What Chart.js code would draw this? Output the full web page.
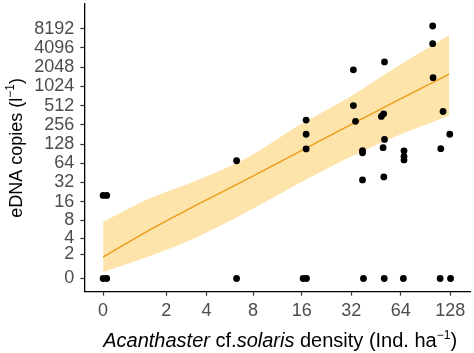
<!DOCTYPE html>
<html lang="en">
  <head>
    <meta charset="UTF-8" />
    <meta name="viewport" content="width=device-width, initial-scale=1.0" />
    <title>eDNA copies vs Acanthaster density</title>
    <script src="https://cdn.jsdelivr.net/npm/chart.js"></script>
    <style>
      html, body { margin: 0; padding: 0; background: #fff; }
      #wrap { width: 474px; height: 353px; position: relative; }
    </style>
  </head>
  <body>
    <div id="wrap"><canvas id="myChart"></canvas></div>
    <script>
      // observed samples: density (Ind. ha-1) and eDNA copies (l-1)
      const density = [0, 0.1, 0, 0.1, 6.3, 6.3, 17, 17, 17, 16.3, 17.1,
        33, 33, 34, 37.5, 37.5, 37.5, 38, 48.8, 50.4, 51, 51, 50, 50.5, 50.8,
        67, 67, 67, 66.4, 100, 100, 100.6, 112, 111, 115.6, 127, 128.4];
      const copies = [20, 20, 0, 0, 70, 0, 304, 182, 107, 0, 0,
        1864, 512, 290, 101, 93, 35, 0, 346, 381, 2479, 151, 112, 39, 0,
        100, 82, 72, 0, 9045, 4774, 1403, 108, 0, 414, 182, 0];

      // fitted curve and its confidence band
      const fitDensity = [0, 1.4, 3.5, 7.5, 15, 30, 60, 126];
      const fitCopies = [1.7, 5.6, 14.5, 37, 93, 238, 600, 1600];
      const fitLower = [0.47, 1.8, 4.3, 11.3, 30, 75, 170, 355];
      const fitUpper = [7.6, 18, 35, 80, 242, 657, 2050, 6480];

      const xTicks = [0, 2, 4, 8, 16, 32, 64, 128];
      const yTicks = [0, 2, 4, 8, 16, 32, 64, 128, 256, 512, 1024, 2048, 4096, 8192];

      // pseudo-log axis, same idea as ggplot's pseudo_log_trans(base 2)
      const tr = (v) => Math.asinh(v / 2);
      const pts = (xs, ys) => xs.map((x, i) => ({ x: tr(x), y: tr(ys[i]) }));

      const FONT = "'Liberation Sans', Arial, sans-serif";

      const axisTitles = {
        id: "axisTitles",
        afterDraw(chart) {
          const { ctx, chartArea } = chart;
          ctx.save();
          ctx.fillStyle = "#000";
          ctx.textBaseline = "alphabetic";

          // x title with italic species name
          const size = 20;
          const parts = [
            ["Acanthaster", "italic", size, 0],
            [" cf.", "normal", size, 0],
            ["solaris", "italic", size, 0],
            [" density (Ind. ha", "normal", size, 0],
            ["\u22121", "normal", 12, -8],
            [")", "normal", size, 0],
          ];
          let total = 0;
          parts.forEach((p) => {
            ctx.font = `${p[1]} ${p[2]}px ${FONT}`;
            total += ctx.measureText(p[0]).width;
          });
          let x = (chartArea.left + chartArea.right) / 2 - total / 2 + 3;
          const base = 347;
          parts.forEach((p) => {
            ctx.font = `${p[1]} ${p[2]}px ${FONT}`;
            ctx.textAlign = "left";
            ctx.fillText(p[0], x, base + p[3]);
            x += ctx.measureText(p[0]).width;
          });

          // y title, rotated
          const yparts = [
            ["eDNA copies (l", 18, 0],
            ["\u22121", 12, -8],
            [")", 18, 0],
          ];
          let ytotal = 0;
          yparts.forEach((p) => {
            ctx.font = `${p[1]}px ${FONT}`;
            ytotal += ctx.measureText(p[0]).width;
          });
          ctx.translate(22, (chartArea.top + chartArea.bottom) / 2);
          ctx.rotate(-Math.PI / 2);
          let yx = -ytotal / 2;
          yparts.forEach((p) => {
            ctx.font = `${p[1]}px ${FONT}`;
            ctx.fillText(p[0], yx, p[2]);
            yx += ctx.measureText(p[0]).width;
          });
          ctx.restore();
        },
      };

      const data = {
        datasets: [
          {
            label: "samples",
            data: pts(density, copies),
            backgroundColor: "#000",
            borderWidth: 0,
            pointRadius: 3.4,
            order: 0,
          },
          {
            type: "line",
            label: "fit",
            data: pts(fitDensity, fitCopies),
            borderColor: "#EE9A1A",
            borderWidth: 1.4,
            pointRadius: 0,
            cubicInterpolationMode: "monotone",
            fill: false,
            order: 1,
          },
          {
            type: "line",
            label: "upper",
            data: pts(fitDensity, fitUpper),
            borderWidth: 0,
            pointRadius: 0,
            cubicInterpolationMode: "monotone",
            backgroundColor: "#FDE4AB",
            fill: "+1",
            order: 2,
          },
          {
            type: "line",
            label: "lower",
            data: pts(fitDensity, fitLower),
            borderWidth: 0,
            pointRadius: 0,
            cubicInterpolationMode: "monotone",
            fill: false,
            order: 3,
          },
        ],
      };

      const tickFont = { family: FONT, size: 18 };

      const config = {
        type: "scatter",
        data: data,
        options: {
          responsive: true,
          maintainAspectRatio: false,
          animation: false,
          layout: { padding: 0 },
          plugins: {
            legend: { display: false },
            tooltip: { enabled: false },
          },
          scales: {
            x: {
              type: "linear",
              min: -0.263,
              max: 5.127,
              afterBuildTicks: (s) => {
                s.ticks = xTicks.map((v) => ({ value: tr(v) }));
              },
              afterFit: (s) => {
                s.height = 61.3;
                s.paddingLeft = 0;
                s.paddingRight = 0;
              },
              ticks: {
                callback: (v, i) => String(xTicks[i]),
                color: "#4D4D4D",
                font: tickFont,
                padding: 5,
                autoSkip: false,
                maxRotation: 0,
              },
              grid: {
                drawOnChartArea: false,
                drawTicks: true,
                tickLength: 4,
                tickColor: "#333",
                tickWidth: 1.2,
              },
              border: { display: true, color: "#000", width: 1.3 },
            },
            y: {
              type: "linear",
              min: -0.477,
              max: 9.904,
              afterBuildTicks: (s) => {
                s.ticks = yTicks.map((v) => ({ value: tr(v) }));
              },
              afterFit: (s) => {
                s.width = 84.3;
                s.paddingTop = 0;
                s.paddingBottom = 0;
              },
              ticks: {
                callback: (v, i) => String(yTicks[i]),
                color: "#4D4D4D",
                font: tickFont,
                padding: 6,
                autoSkip: false,
              },
              grid: {
                drawOnChartArea: false,
                drawTicks: true,
                tickLength: 4,
                tickColor: "#333",
                tickWidth: 1.2,
              },
              border: { display: true, color: "#000", width: 1.3 },
            },
          },
        },
        plugins: [axisTitles],
      };
      const myChart = new Chart(document.getElementById("myChart"), config);
    </script>
  </body>
</html>
